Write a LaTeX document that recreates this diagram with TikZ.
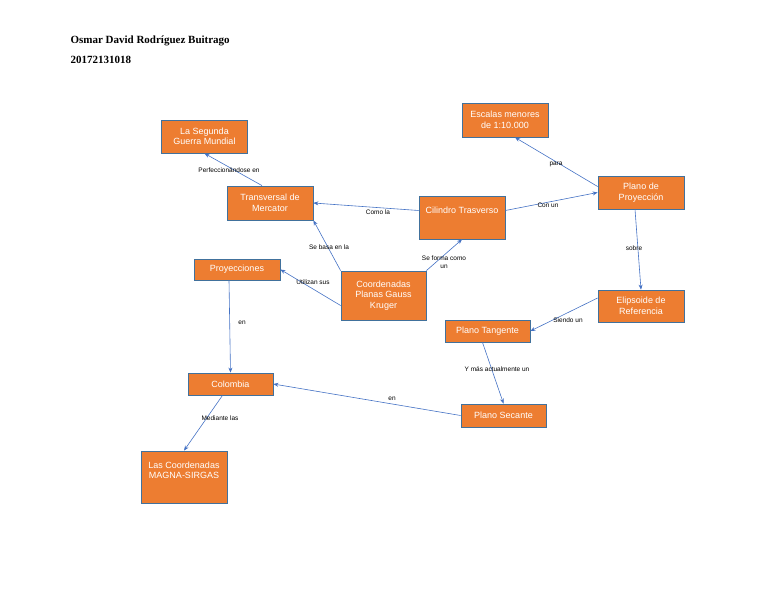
\documentclass[tikz,border=0pt]{standalone}
\usepackage{fontspec}
\setmainfont{Liberation Serif}
\newfontfamily\boxfont{Liberation Sans}
\usetikzlibrary{arrows.meta}
\definecolor{boxfill}{HTML}{ED7D31}
\definecolor{boxline}{HTML}{41719C}
\definecolor{linkcol}{HTML}{4472C4}

\begin{document}
\begin{tikzpicture}[x=1pt, y=-1pt,
    box/.style={draw=boxline, line width=0.8pt, fill=boxfill, text=white, font=\boxfont\fontsize{9}{10.5}\selectfont, align=center, inner sep=1pt, minimum width=86pt},
    link/.style={draw=linkcol, line width=0.6pt, -{Stealth[length=5pt,width=4pt]}},
    lbl/.style={font=\boxfont\fontsize{6.5}{8}\selectfont, align=center, inner sep=1pt}]
    \useasboundingbox (0,0) rectangle (768,594);
    \node[anchor=west, font=\bfseries\fontsize{11}{13}\selectfont] (author) at (67,41) {Osmar David Rodríguez Buitrago};
    \node[anchor=west, font=\bfseries\fontsize{11}{13}\selectfont] (code) at (67,60) {20172131018};

    \node[box, minimum height=33pt] (guerra) at (204.5,136.5) {La Segunda\\Guerra Mundial};
    \node[box, minimum height=34pt] (mercator) at (270,203) {Transversal de\\Mercator};
    \node[box, minimum height=34pt] (escalas) at (505,120) {Escalas menores\\de 1:10.000};
    \node[box, minimum height=33pt] (plano) at (641,192.5) {Plano de\\Proyección};
    \node[box, minimum height=43pt, text depth=14pt] (cilindro) at (462,217.5) {Cilindro Trasverso};
    \node[box, minimum height=21pt] (proyec) at (237,269.5) {Proyecciones};
    \node[box, minimum height=49pt, minimum width=85pt] (gauss) at (383.5,295.5) {Coordenadas\\Planas Gauss\\Kruger};
    \node[box, minimum height=32pt] (elipsoide) at (641,306) {Elipsoide de\\Referencia};
    \node[box, minimum height=22pt, minimum width=85pt] (tangente) at (487.5,331) {Plano Tangente};
    \node[box, minimum height=22pt, minimum width=85pt] (colombia) at (230.5,384) {Colombia};
    \node[box, minimum height=23pt, minimum width=85pt] (secante) at (503.5,415.5) {Plano Secante};
    \node[box, minimum height=52pt, text depth=14pt] (magna) at (184,477) {Las Coordenadas\\MAGNA-SIRGAS};

    \draw[link] (mercator.north) ++(-8,0) -- (guerra.south);
    \draw[link] (cilindro.west) ++(0,-7) -- (mercator.east);
    \draw[link] (gauss.north west) -- (mercator.south east);
    \draw[link] (gauss.north east) -- (cilindro.south);
    \draw[link] (gauss.west) ++(0,10) -- (proyec.east);
    \draw[link] (cilindro.east) ++(0,-7) -- (plano.west);
    \draw[link] (plano.west) ++(0,-6) -- ([xshift=10pt]escalas.south);
    \draw[link] (plano.south) ++(-6,0) -- (elipsoide.north);
    \draw[link] (elipsoide.west) ++(0,-8) -- (tangente.east);
    \draw[link] (tangente.south) ++(-5,0) -- (secante.north);
    \draw[link] (secante.west) -- (colombia.east);
    \draw[link] (proyec.south) ++(-8,0) -- (colombia.north);
    \draw[link] (colombia.south) ++(-8,0) -- (magna.north);

    \node[lbl] (l1) at (229,170) {Perfeccionándose en};
    \node[lbl] (l2) at (378,212) {Como la};
    \node[lbl] (l3) at (329,247) {Se basa en la};
    \node[lbl] (l4) at (444,262) {Se forma como\\un};
    \node[lbl] (l5) at (313,282) {Utilizan sus};
    \node[lbl] (l6) at (548,205) {Con un};
    \node[lbl] (l7) at (556,164) {para};
    \node[lbl] (l8) at (634,248) {sobre};
    \node[lbl] (l9) at (568,320) {Siendo un};
    \node[lbl] (l10) at (497,369) {Y más actualmente un};
    \node[lbl] (l11) at (392,399) {en};
    \node[lbl] (l12) at (242,323) {en};
    \node[lbl] (l13) at (220,418) {Mediante las};
\end{tikzpicture}
\end{document}
